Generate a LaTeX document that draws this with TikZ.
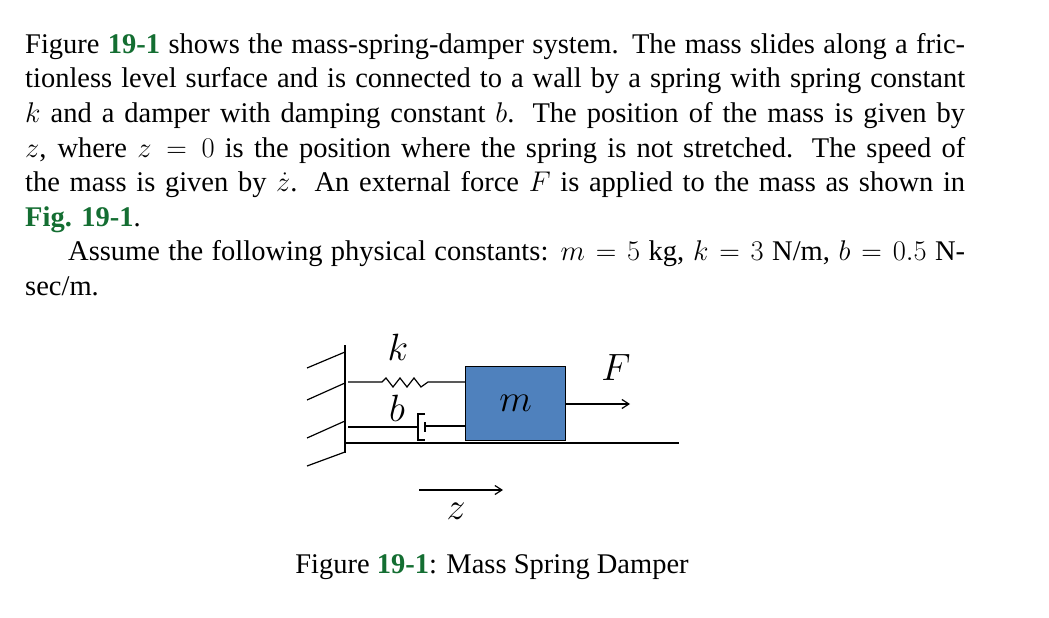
\documentclass[tikz,border=0pt]{standalone}
\usepackage{fix-cm}
\usepackage{fontspec}
\setmainfont{Liberation Serif}
\usetikzlibrary{arrows.meta}
\definecolor{refgreen}{RGB}{20,110,50}
\definecolor{massblue}{RGB}{79,129,189}
\newcommand{\fr}{\textcolor{refgreen}{\textbf{19-1}}}
\begin{document}
\begin{tikzpicture}[x=1pt,y=-1pt,
  ln/.style={line width=1.2pt},
  arr/.style={ln,-{Straight Barb[length=7pt,width=9pt]}},
  lab/.style={font=\fontsize{38}{38}\selectfont}]
\useasboundingbox (0,0) rectangle (1049,618);
\node[anchor=north west,inner sep=0pt,text width=940pt,align=justify,
  font=\fontsize{28.5}{34.6}\selectfont] (para) at (25,33) {%
Figure \fr{} shows the mass-spring-damper system. The mass slides along a fric-\linebreak
tionless level surface and is connected to a wall by a spring with spring constant\linebreak
$k$ and a damper with damping constant $b$. The position of the mass is given by\linebreak
$z$, where $z=0$ is the position where the spring is not stretched. The speed of\linebreak
the mass is given by $\dot z$. An external force $F$ is applied to the mass as shown in\linebreak
\textcolor{refgreen}{\textbf{Fig. 19-1}}.\par
\hspace*{43pt}Assume the following physical constants: $m=5$ kg, $k=3$ N/m, $b=0.5$ N-\linebreak
sec/m.};
% wall
\draw[ln] (345,345) -- (345,453);
\foreach \ya/\yb in {368/352,400/383,438/421,466/452}
  \draw[ln] (307,\ya) -- (345,\yb);
\draw[ln] (345,443) -- (679,443);
% mass
\node[draw,ln,fill=massblue,minimum width=100pt,minimum height=74pt,inner sep=0pt,anchor=north west] (mass) at (465,366) {};
\node[lab] (m) at (mass.center) {$m$};
% spring
\draw[ln] (348,382) -- (382,382) -- (386,378) -- (393,387) -- (400,378) -- (407,387) -- (414,378) -- (421,387) -- (428,382) -- (mass.west |- 0,382);
\node[lab] (k) at (398,347) {$k$};
% damper
\draw[ln] (348,427) -- (418,427);
\draw[ln] (425,414) -- (418,414) -- (418,440) -- (425,440);
\draw[ln] (425,422) -- (425,432);
\draw[ln] (425,426) -- (mass.west |- 0,426);
\node[lab] (b) at (397,408) {$b$};
% force
\draw[arr] (mass.east |- 0,404) -- (630,404);
\node[lab] (F) at (616,368) {$F$};
% z
\coordinate (z1) at (419,490); \coordinate (z2) at (503,490);
\draw[arr] (z1) -- (z2);
\node[lab] (z) at (456,511) {$z$};
% caption
\node[font=\fontsize{28.5}{30}\selectfont] (cap) at (492,567) {Figure \fr: Mass Spring Damper};
\end{tikzpicture}
\end{document}
